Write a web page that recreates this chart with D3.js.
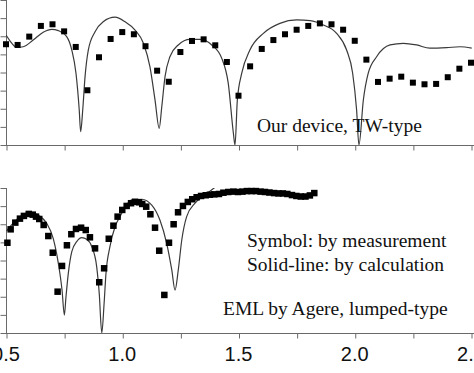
<!DOCTYPE html>
<html>
<head>
<meta charset="utf-8">
<script src="https://cdn.jsdelivr.net/npm/d3@7"></script>
<style>
  body { margin: 0; background: #fff; }
  svg { display: block; }
</style>
</head>
<body>
<svg id="chart"></svg>
<script>
// ---- data (frequency, response in dB) ----

// top panel: "Our device, TW-type"
const topMeasFreq = [0.50, 0.55, 0.60, 0.65, 0.70, 0.75, 0.80, 0.85, 0.90, 0.95,
    1.00, 1.05, 1.10, 1.15, 1.20, 1.25, 1.30, 1.35, 1.40, 1.45,
    1.50, 1.55, 1.60, 1.65, 1.70, 1.75, 1.80, 1.85, 1.90, 1.95,
    2.00, 2.05, 2.10, 2.15, 2.20, 2.25, 2.30, 2.35, 2.40, 2.45, 2.50];
const topMeasVal = [-2.44, -2.48, -2.02, -1.43, -1.34, -1.73, -2.59, -4.98, -3.16, -2.15,
    -1.77, -1.89, -2.55, -3.90, -4.51, -2.87, -2.26, -2.17, -2.50, -3.42,
    -5.28, -3.66, -2.70, -2.21, -1.89, -1.64, -1.43, -1.29, -1.34, -1.64,
    -2.25, -3.29, -4.52, -4.34, -4.23, -4.56, -4.65, -4.63, -4.26, -3.79, -3.46];

const topCalcFreq = [0.500, 0.517, 0.546, 0.574, 0.617, 0.660, 0.697, 0.725, 0.761, 0.783,
    0.801, 0.815, 0.821, 0.830, 0.840, 0.854, 0.883, 0.918, 0.969, 1.012,
    1.055, 1.091, 1.119, 1.141, 1.159, 1.170, 1.184, 1.205, 1.241, 1.291,
    1.334, 1.385, 1.428, 1.456, 1.478, 1.485, 1.495, 1.514, 1.549, 1.607,
    1.678, 1.750, 1.808, 1.865, 1.922, 1.965, 1.991, 2.008, 2.018, 2.037,
    2.058, 2.094, 2.152, 2.209, 2.266, 2.323, 2.395, 2.453, 2.503];
const topCalcVal = [-1.93, -2.25, -2.61, -2.58, -2.21, -1.78, -1.62, -1.69, -2.02, -2.76,
    -4.04, -6.07, -7.27, -6.07, -4.23, -2.76, -1.75, -1.20, -0.95, -1.20,
    -1.66, -2.39, -3.68, -5.52, -7.08, -5.89, -4.23, -3.13, -2.48, -2.17,
    -2.17, -2.48, -3.22, -4.60, -7.35, -8.00, -5.52, -4.04, -2.76, -1.84,
    -1.29, -1.10, -1.14, -1.38, -1.84, -2.76, -4.04, -6.07, -8.00, -5.52,
    -4.04, -3.13, -2.48, -2.39, -2.48, -2.66, -2.63, -2.58, -2.66];

// bottom panel: "EML by Agere, lumped-type"
const botMeasFreq = [0.506, 0.520, 0.540, 0.560, 0.577, 0.598, 0.615, 0.629, 0.643, 0.662,
    0.682, 0.701, 0.722, 0.741, 0.762, 0.781, 0.801, 0.823, 0.843, 0.861,
    0.883, 0.901, 0.922, 0.942, 0.962, 0.980, 1.000, 1.019, 1.038, 1.055,
    1.072, 1.086, 1.103, 1.121, 1.141, 1.159, 1.181, 1.201, 1.221, 1.240,
    1.261, 1.282, 1.301, 1.320, 1.339, 1.359, 1.377, 1.396, 1.416, 1.435,
    1.456, 1.478, 1.498, 1.517, 1.536, 1.556, 1.575, 1.595, 1.614, 1.633,
    1.653, 1.672, 1.691, 1.710, 1.730, 1.749, 1.768, 1.788, 1.807, 1.826];
const botMeasVal = [-3.02, -2.28, -1.91, -1.69, -1.54, -1.43, -1.47, -1.58, -1.71, -2.04,
    -2.65, -3.57, -5.72, -4.30, -3.16, -2.55, -2.26, -2.19, -2.32, -2.72,
    -3.33, -5.20, -4.43, -2.80, -2.08, -1.58, -1.21, -0.99, -0.84, -0.76,
    -0.79, -0.88, -1.03, -1.45, -2.19, -3.46, -5.90, -3.02, -2.00, -1.34,
    -0.99, -0.77, -0.62, -0.51, -0.44, -0.40, -0.37, -0.35, -0.33, -0.26,
    -0.22, -0.20, -0.22, -0.20, -0.17, -0.17, -0.17, -0.20, -0.22, -0.25,
    -0.28, -0.30, -0.30, -0.33, -0.39, -0.44, -0.47, -0.47, -0.41, -0.28];

const botCalcFreq = [0.502, 0.517, 0.560, 0.603, 0.639, 0.675, 0.703, 0.725, 0.741, 0.751,
    0.758, 0.768, 0.783, 0.804, 0.826, 0.847, 0.869, 0.890, 0.901, 0.912,
    0.922, 0.930, 0.947, 0.969, 0.990, 1.041, 1.084, 1.127, 1.162, 1.191,
    1.213, 1.227, 1.241, 1.256, 1.277, 1.313, 1.356, 1.399];
const botCalcVal = [-2.37, -2.14, -1.58, -1.34, -1.49, -1.95, -2.78, -4.15, -5.63, -7.01,
    -6.00, -4.71, -3.51, -2.96, -2.74, -2.83, -3.24, -4.34, -5.81, -8.00,
    -6.36, -4.71, -3.24, -2.14, -1.58, -0.66, -0.62, -0.94, -1.77, -3.05,
    -4.52, -5.63, -4.52, -2.87, -1.58, -0.84, -0.39, 0.04];

// axis ticks
const xTicks = [0.5, 0.75, 1.0, 1.25, 1.5, 1.75, 2.0, 2.25, 2.5];
const xLabels = ["0.5", "1.0", "1.5", "2.0", "2.5"];
const yTicks = [-8, -7, -6, -5, -4, -3, -2, -1, 0];

// ---- layout ----
let width = 474, height = 373;

let svg = d3.select('#chart')
    .attr('width', width)
    .attr('height', height);

let xScale = d3.scaleLinear()
    .domain([0.5, 2.5])
    .range([6, 471]);

const axisColor = '#6a6a6a';
const lineColor = '#3a3a3a';

function drawPanel(cfg) {
    let yScale = d3.scaleLinear()
        .domain([-8, 0])
        .range([cfg.bottom, cfg.top]);

    let g = svg.append('g');

    // clip so the calculated curve stays inside the frame
    svg.append('clipPath')
        .attr('id', cfg.id)
        .append('rect')
        .attr('x', 6).attr('y', cfg.top)
        .attr('width', width - 6).attr('height', cfg.bottom - cfg.top);

    // left axis
    let yAxis = g.append('g')
        .attr('transform', 'translate(6.5,0)')
        .call(d3.axisLeft(yScale).tickValues(yTicks).tickSize(6).tickSizeOuter(0).tickFormat(''));
    yAxis.select('.domain').remove();
    yAxis.selectAll('line').attr('stroke', axisColor);
    g.append('line')
        .attr('x1', 6.5).attr('x2', 6.5)
        .attr('y1', cfg.top).attr('y2', cfg.bottom)
        .attr('stroke', axisColor);

    // bottom axis
    let xAxis = g.append('g')
        .attr('transform', `translate(0.5,${cfg.bottom + 0.5})`)
        .call(d3.axisBottom(xScale).tickValues(xTicks).tickSize(5).tickSizeOuter(0).tickFormat(''));
    xAxis.select('.domain').remove();
    xAxis.selectAll('line').attr('stroke', axisColor);
    g.append('line')
        .attr('x1', 6).attr('x2', width)
        .attr('y1', cfg.bottom + 0.5).attr('y2', cfg.bottom + 0.5)
        .attr('stroke', axisColor);

    if (cfg.labels) {
        g.selectAll('.xlabel')
            .data(xLabels)
            .enter()
            .append('text')
            .attr('class', 'xlabel')
            .attr('x', d => xScale(+d))
            .attr('y', cfg.bottom + 28)
            .attr('text-anchor', 'middle')
            .style('font-family', '"Liberation Sans", Arial, sans-serif')
            .style('font-size', '20px')
            .attr('fill', '#111')
            .text(d => d);
    }

    // calculated curve
    let calc = cfg.calcFreq.map((f, i) => [f, cfg.calcVal[i]]);
    let line = d3.line()
        .x(d => xScale(d[0]))
        .y(d => yScale(d[1]))
        .curve(d3.curveMonotoneX);
    g.append('path')
        .datum(calc)
        .attr('clip-path', `url(#${cfg.id})`)
        .attr('d', line)
        .attr('fill', 'none')
        .attr('stroke', lineColor)
        .attr('stroke-width', 1.2);

    // measured symbols
    let meas = cfg.measFreq.map((f, i) => [f, cfg.measVal[i]]);
    let s = cfg.size;
    g.selectAll('.sym')
        .data(meas)
        .enter()
        .append('rect')
        .attr('class', 'sym')
        .attr('x', d => xScale(d[0]) - s / 2)
        .attr('y', d => yScale(d[1]) - s / 2)
        .attr('width', s)
        .attr('height', s)
        .attr('fill', '#000');

    return g;
}

let topPanel = drawPanel({
    id: 'clipTop', top: 0, bottom: 145, labels: false, size: 6,
    measFreq: topMeasFreq, measVal: topMeasVal,
    calcFreq: topCalcFreq, calcVal: topCalcVal
});

let botPanel = drawPanel({
    id: 'clipBot', top: 188, bottom: 333, labels: true, size: 6.5,
    measFreq: botMeasFreq, measVal: botMeasVal,
    calcFreq: botCalcFreq, calcVal: botCalcVal
});

// annotations
const serif = '"Liberation Serif", "Times New Roman", serif';
function note(x, y, txt) {
    svg.append('text')
        .attr('x', x)
        .attr('y', y)
        .style('font-family', serif)
        .style('font-size', '19.5px')
        .attr('fill', '#111')
        .text(txt);
}
note(257, 132, 'Our device, TW-type');
note(247, 247, 'Symbol: by measurement');
note(247, 271, 'Solid-line: by calculation');
note(223, 315, 'EML by Agere, lumped-type');
</script>
</body>
</html>
